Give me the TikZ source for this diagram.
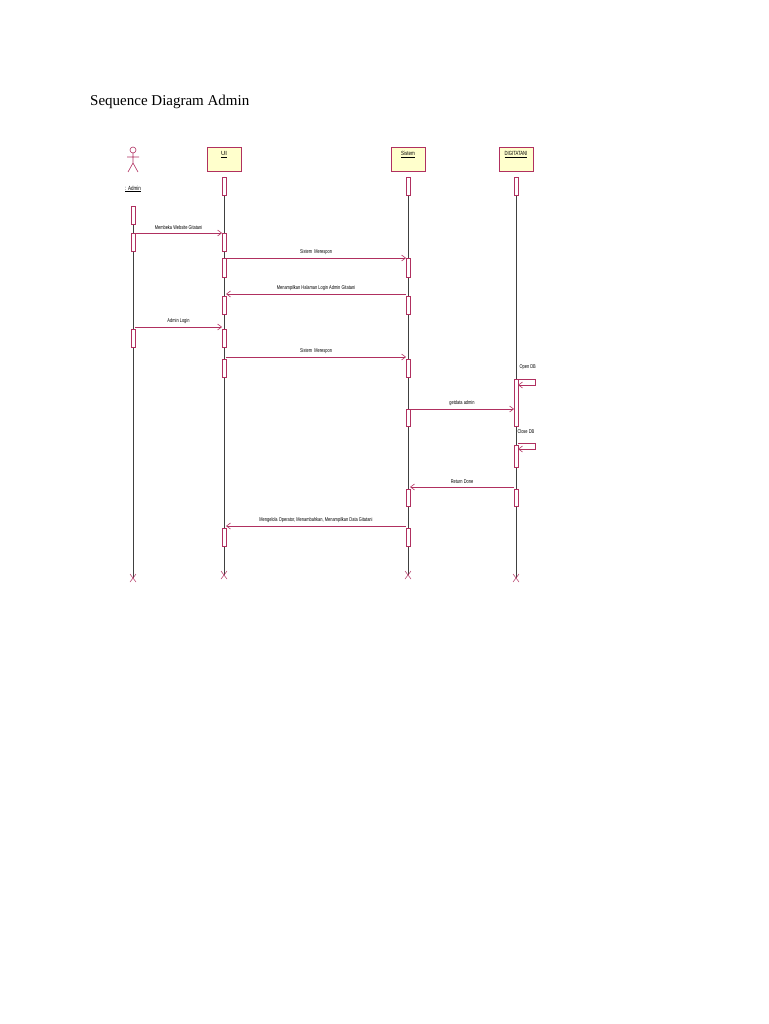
\documentclass[tikz,border=0pt]{standalone}
\usepackage{fontspec}
\setmainfont{Liberation Serif}
\newfontfamily\lbl{Liberation Sans}
\usetikzlibrary{arrows.meta}
\definecolor{mar}{HTML}{B03060}
\definecolor{hd}{HTML}{FFFFCC}
\tikzset{
 obj/.style={draw=mar,fill=hd,line width=0.8pt,minimum width=34pt,minimum height=24pt,inner sep=0pt,anchor=north},
 act/.style={draw=mar,fill=white,line width=0.6pt},
 life/.style={draw=black!75,line width=0.9pt},
 msg/.style={draw=mar,line width=0.6pt,-{Straight Barb[length=4pt,width=6pt]}},
 ml/.style={font=\lbl\fontsize{5.5}{6}\selectfont,text=black,xscale=0.72,anchor=south},
 xm/.style={draw=mar,line width=0.5pt}
}
\begin{document}
\begin{tikzpicture}[x=1pt,y=-1pt]
\useasboundingbox (0,0) rectangle (768,1024);
\node[anchor=west,font=\fontsize{15}{17}\selectfont,inner sep=0pt] (title) at (90,102) {Sequence Diagram Admin};
% heads
\node[obj] (ui) at (224,147) {};
\node[anchor=north,font=\lbl\fontsize{6}{7}\selectfont] at (224,148) {\underline{UI}};
\node[obj] (si) at (408,147) {};
\node[anchor=north,font=\lbl\fontsize{6}{7}\selectfont,xscale=0.75] at (408,148) {\underline{Sistem}};
\node[obj] (db) at (516,147) {};
\node[anchor=north,font=\lbl\fontsize{6}{7}\selectfont,xscale=0.7] at (516,148) {\underline{DIGITATANI}};
% actor
\draw[mar,line width=0.6pt] (133,150) circle (3);
\draw[mar,line width=0.6pt] (133,153)--(133,163) (127,157)--(139,157) (133,163)--(128,172) (133,163)--(138,172);
\node[font=\lbl\fontsize{6}{7}\selectfont,xscale=0.75] (ad) at (133,189) {\underline{: Admin}};
% lifelines
\coordinate (ea) at (133,578); \coordinate (eu) at (224,575); \coordinate (es) at (408,575); \coordinate (ed) at (516,578);
\draw[life] (133,224) -- (ea);
\draw[life] (224,177) -- (eu);
\draw[life] (408,177) -- (es);
\draw[life] (516,177) -- (ed);
\foreach \x/\y in {133/578,224/575,408/575,516/578}{\draw[xm] (\x-3,\y-4)--(\x+3,\y+4) (\x-3,\y+4)--(\x+3,\y-4);}
% activations
\foreach \x/\a/\b in {224/177/195,408/177/195,516/177/195,133/206/224,
 133/233/251,224/233/251,224/258/277,408/258/277,224/296/314,408/296/314,
 133/329/347,224/329/347,224/359/377,408/359/377,516/379/426,408/409/426,
 516/445/467,408/489/506,516/489/506,224/528/546,408/528/546}
 {\filldraw[act] (\x-2,\a) rectangle (\x+2,\b);}
% messages
\draw[msg] (135,233) -- node[ml]{Membeka Website Gitatani} (222,233);
\draw[msg] (226,258) -- node[ml]{Sistem \ Merespon} (406,258);
\draw[msg] (406,294) -- node[ml]{Menampilkan Halaman Login Admin Gitatani} (226,294);
\draw[msg] (135,327) -- node[ml]{Admin Login} (222,327);
\draw[msg] (226,357) -- node[ml]{Sistem \ Merespon} (406,357);
\draw[msg] (518,379) -- (535,379) -- (535,385) -- (518,385);
\node[ml,anchor=south west] at (517,373) {Open DB};
\draw[msg] (410,409) -- node[ml]{getdata admin} (514,409);
\draw[msg] (518,443) -- (535,443) -- (535,449) -- (518,449);
\node[ml,anchor=south west] at (515,437) {Close DB};
\draw[msg] (514,487) -- node[ml]{Return Done} (410,487);
\draw[msg] (406,526) -- node[ml]{Mengelola Operator, Menambahkan, Menampilkan Data Gitatani} (226,526);
\end{tikzpicture}
\end{document}
